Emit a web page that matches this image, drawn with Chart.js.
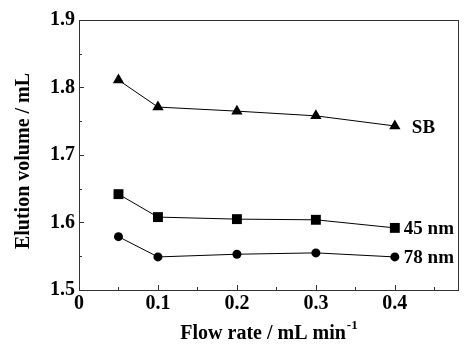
<!DOCTYPE html>
<html>
<head>
<meta charset="utf-8">
<script src="https://cdn.jsdelivr.net/npm/chart.js@4/dist/chart.umd.min.js"></script>
<style>
html,body{margin:0;padding:0;background:#fff;}
#wrap{width:474px;height:353px;position:relative;}
</style>
</head>
<body>
<div id="wrap"><canvas id="c" width="474" height="353"></canvas></div>
<script>
const flowRates = [0.05, 0.1, 0.2, 0.3, 0.4];
const sbValues = [1.811, 1.771, 1.765, 1.758, 1.743];
const nm45Values = [1.642, 1.608, 1.605, 1.604, 1.592];
const nm78Values = [1.579, 1.549, 1.553, 1.555, 1.549];
const seriesLabels = ['SB', '45 nm', '78 nm'];
const xTickValues = [0, 0.1, 0.2, 0.3, 0.4];
const xMinorValues = [0.05, 0.15, 0.25, 0.35, 0.45];
const yTickValues = [1.5, 1.6, 1.7, 1.8, 1.9];
const yMinorValues = [1.55, 1.65, 1.75, 1.85];
const xTitle = 'Flow rate / mL min';
const xTitleSup = '-1';
const yTitle = 'Elution volume / mL';

const FONT = '"Liberation Serif", "Times New Roman", serif';

function pts(vals){ return flowRates.map((x,i)=>({x:x, y:vals[i]})); }

const framePlugin = {
  id: 'frame',
  afterDatasetsDraw(chart){
    const {ctx, chartArea:a, scales:{x, y}} = chart;
    ctx.save();
    ctx.strokeStyle = '#333';
    ctx.lineWidth = 1;
    ctx.strokeRect(Math.round(a.left)+0.5, Math.round(a.top)+0.5, Math.round(a.right-a.left), Math.round(a.bottom-a.top));
    ctx.beginPath();
    xTickValues.forEach(v=>{ const px=Math.round(x.getPixelForValue(v))+0.5; ctx.moveTo(px,a.bottom); ctx.lineTo(px,a.bottom-5); });
    xMinorValues.forEach(v=>{ const px=Math.round(x.getPixelForValue(v))+0.5; ctx.moveTo(px,a.bottom); ctx.lineTo(px,a.bottom-3); });
    yTickValues.forEach(v=>{ const py=Math.round(y.getPixelForValue(v))+0.5; ctx.moveTo(a.left,py); ctx.lineTo(a.left+5,py); });
    yMinorValues.forEach(v=>{ const py=Math.round(y.getPixelForValue(v))+0.5; ctx.moveTo(a.left,py); ctx.lineTo(a.left+3,py); });
    ctx.stroke();
    // series labels
    ctx.fillStyle = '#000';
    ctx.font = 'bold 19px ' + FONT;
    ctx.textBaseline = 'middle';
    ctx.textAlign = 'left';
    const last = flowRates.length - 1;
    const lx = x.getPixelForValue(flowRates[last]);
    ctx.fillText(seriesLabels[0], lx + 17, y.getPixelForValue(sbValues[last]) + 2);
    ctx.fillText(seriesLabels[1], lx + 9, y.getPixelForValue(nm45Values[last]) + 1);
    ctx.fillText(seriesLabels[2], lx + 9, y.getPixelForValue(nm78Values[last]) + 1);
    // x title with superscript
    const cx = (a.left + a.right) / 2;
    ctx.font = 'bold 20px ' + FONT;
    const wMain = ctx.measureText(xTitle).width;
    ctx.font = 'bold 13px ' + FONT;
    const wSup = ctx.measureText(xTitleSup).width;
    const startX = cx - (wMain + wSup) / 2;
    ctx.textBaseline = 'alphabetic';
    ctx.font = 'bold 20px ' + FONT;
    ctx.fillText(xTitle, startX, 339);
    ctx.font = 'bold 13px ' + FONT;
    ctx.fillText(xTitleSup, startX + wMain + 1, 329);
    // y title
    ctx.translate(24, 161);
    ctx.rotate(-Math.PI / 2);
    ctx.font = 'bold 20px ' + FONT;
    ctx.textAlign = 'center';
    ctx.textBaseline = 'middle';
    ctx.fillText(yTitle, 0, 0);
    ctx.restore();
  }
};

const ds = (label, vals, style, r) => ({
  label, data: pts(vals), borderColor:'#000', backgroundColor:'#000', borderWidth:1,
  pointStyle: style, pointRadius: r, pointHoverRadius: r, pointBorderWidth: 0, showLine: true, tension: 0
});

new Chart(document.getElementById('c'), {
  type: 'scatter',
  data: { datasets: [
    ds(seriesLabels[0], sbValues, 'triangle', 6.5),
    ds(seriesLabels[1], nm45Values, 'rect', 7),
    ds(seriesLabels[2], nm78Values, 'circle', 4.5)
  ]},
  options: {
    responsive: false, animation: false,
    layout: { padding: { left: 0, top: 20, right: 16, bottom: 0 } },
    plugins: { legend: { display: false }, tooltip: { enabled: false } },
    scales: {
      x: {
        type: 'linear', min: 0, max: 0.48,
        afterBuildTicks(s){ s.ticks = xTickValues.map(v=>({value:v})); },
        afterFit(s){ s.height = 63; },
        grid: { display: false, drawTicks: false },
        border: { display: false },
        ticks: { color:'#000', padding: 2, maxRotation: 0, font: { family: FONT, size: 20, weight: 'bold' },
          callback: v => v === 0 ? '0' : v.toFixed(1) }
      },
      y: {
        type: 'linear', min: 1.5, max: 1.9,
        afterBuildTicks(s){ s.ticks = yTickValues.map(v=>({value:v})); },
        afterFit(s){ s.width = 79; },
        grid: { display: false, drawTicks: false },
        border: { display: false },
        ticks: { color:'#000', padding: 4, font: { family: FONT, size: 20, weight: 'bold' },
          callback: v => v.toFixed(1) }
      }
    }
  },
  plugins: [framePlugin]
});
</script>
</body>
</html>
